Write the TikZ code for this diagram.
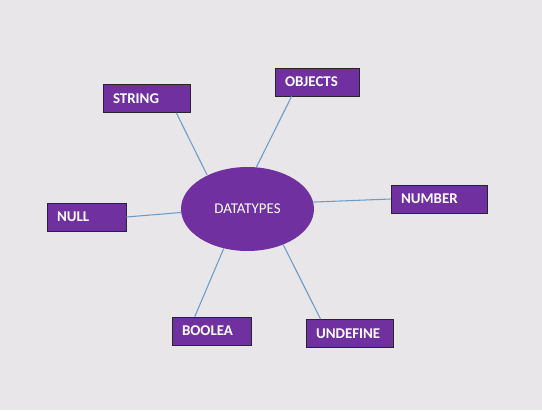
\documentclass[tikz,border=0pt]{standalone}
\usepackage{fontspec}
\setmainfont{Carlito}
\usetikzlibrary{shapes,calc}
\definecolor{dtpurple}{HTML}{7030A0}
\definecolor{bggray}{HTML}{E8E6E8}
\definecolor{linkblue}{HTML}{6A9BCB}
\tikzset{%
	block/.style = {draw=black!85, fill=dtpurple, rectangle, minimum height=0.56cm,
		inner xsep=0.2cm, inner ysep=0pt, text=white, align=left,
		font=\fontsize{8.5}{10}\selectfont\bfseries},
	hub/.style   = {ellipse, fill=dtpurple, minimum width=2.66cm, minimum height=1.68cm,
		inner sep=0pt, text=white, font=\fontsize{8.5}{10}\selectfont}, % Center
	link/.style  = {draw=linkblue, line width=0.6pt} % Connector
}

\begin{document}
\begin{tikzpicture}[x=0.02cm,y=-0.02cm]
			\useasboundingbox (0,0) rectangle (542,410);
			\fill[bggray] (0,0) rectangle (542,410);

			\node[hub] (dtypes) at (247.5,209) {DATATYPES};
			\node[block,text width=1.34cm] (string) at (146.5,98.5) {STRING};
			\node[block,text width=1.28cm] (objects) at (317,82) {OBJECTS};
			\node[block,text width=1.52cm] (number) at (439,199) {NUMBER};
			\node[block,text width=1.18cm] (null) at (86.5,217) {NULL};
			\node[block,text width=1.18cm] (boolea) at (211.5,331) {BOOLEA};
			\node[block,text width=1.34cm] (undefine) at (349.5,333.5) {UNDEFINE};

			\draw[link] ($(string.south west)!0.84!(string.south east)$) -- (dtypes.140);
			\draw[link] ($(objects.south west)!0.2!(objects.south east)$) -- (dtypes.78);
			\draw[link] (null.east) -- (dtypes.183);
			\draw[link] (number.west) -- (dtypes.6);
			\draw[link] ($(boolea.north west)!0.29!(boolea.north east)$) -- (dtypes.239);
			\draw[link] ($(undefine.north west)!0.17!(undefine.north east)$) -- (dtypes.315);
		\end{tikzpicture}
\end{document}
